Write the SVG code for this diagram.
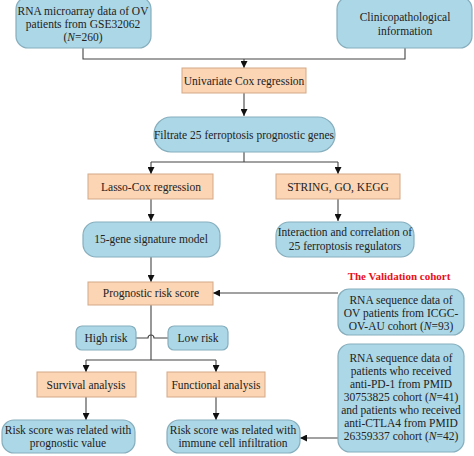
<svg xmlns="http://www.w3.org/2000/svg" width="474" height="456" viewBox="0 0 474 456" font-family="'Liberation Serif', 'DejaVu Serif', serif">
<style>
.b{fill:#acd7e6;stroke:#86aebd;stroke-width:1.2}
.o{fill:#fcd5b4;stroke:#d4a988;stroke-width:1}
text{font-family:'Liberation Serif','DejaVu Serif',serif;font-size:11.5px;fill:#222;text-anchor:middle}
.v{fill:#e8101a;font-weight:bold;font-size:11px}
.c{fill:none;stroke:#444;stroke-width:1.1}
</style>
<defs>
<marker id="a" viewBox="0 0 10 10" refX="10" refY="5" markerWidth="7" markerHeight="7" orient="auto" markerUnits="userSpaceOnUse">
<path d="M0,0L10,5L0,10z" fill="#111"/>
</marker>
</defs>
<rect width="474" height="456" fill="#fff"/>
<g id="connectors">
<path class="c" d="M83,48V59H405V48"/>
<path class="c" d="M244,59V68" marker-end="url(#a)"/>
<path class="c" d="M244,93V116" marker-end="url(#a)"/>
<path class="c" d="M244,152V162M151,162H338"/>
<path class="c" d="M151,162V174" marker-end="url(#a)"/>
<path class="c" d="M338,162V174" marker-end="url(#a)"/>
<path class="c" d="M151,199V221" marker-end="url(#a)"/>
<path class="c" d="M338,199V221" marker-end="url(#a)"/>
<path class="c" d="M151,257V282" marker-end="url(#a)"/>
<path class="c" d="M338,293H213" marker-end="url(#a)"/>
<path class="c" d="M151,305V360M86,360H216"/>
<path class="c" d="M86,360V372" marker-end="url(#a)"/>
<path class="c" d="M216,360V372" marker-end="url(#a)"/>
<path class="c" d="M136,338H148A3,3 0 0 1 154,338H168"/>
<path class="c" d="M86,397V420" marker-end="url(#a)"/>
<path class="c" d="M216,397V420" marker-end="url(#a)"/>
<path class="c" d="M338,438H300" marker-end="url(#a)"/>
</g>
<g id="n1"><rect class="b" x="16" y="-3" width="135" height="51" rx="12"/>
<text x="83" y="15">RNA microarray data of OV</text><text x="83" y="28">patients from GSE32062</text><text x="83" y="41">(<tspan font-style="italic">N</tspan>=260)</text></g>
<g id="n2"><rect class="b" x="337" y="-3" width="135" height="51" rx="12"/>
<text x="405" y="21">Clinicopathological</text><text x="405" y="35">information</text></g>
<g id="n3"><rect class="o" x="182" y="68" width="124" height="25"/>
<text x="244" y="85">Univariate Cox regression</text></g>
<g id="n4"><rect class="b" x="154" y="117" width="181" height="35" rx="17"/>
<text x="244" y="139">Filtrate 25 ferroptosis prognostic genes</text></g>
<g id="n5"><rect class="o" x="88" y="174" width="125" height="25"/>
<text x="151" y="191">Lasso-Cox regression</text></g>
<g id="n6"><rect class="o" x="276" y="174" width="124" height="25"/>
<text x="338" y="191">STRING, GO, KEGG</text></g>
<g id="n7"><rect class="b" x="83" y="222" width="137" height="35" rx="13"/>
<text x="151" y="243">15-gene signature model</text></g>
<g id="n8"><rect class="b" x="276" y="222" width="138" height="35" rx="13"/>
<text x="345" y="236">Interaction and correlation of</text><text x="345" y="250">25 ferroptosis regulators</text></g>
<g id="n9"><rect class="o" x="88" y="282" width="125" height="23"/>
<text x="151" y="297">Prognostic risk score</text></g>
<text class="v" x="399" y="280">The Validation cohort</text>
<g id="n10"><rect class="b" x="338" y="289" width="126" height="46" rx="11"/>
<text x="401" y="304">RNA sequence data of</text><text x="401" y="317">OV patients from ICGC-</text><text x="401" y="330">OV-AU cohort (<tspan font-style="italic">N</tspan>=93)</text></g>
<g id="n11"><rect class="b" x="76" y="326" width="60" height="24" rx="6"/>
<text x="106" y="342">High risk</text></g>
<g id="n12"><rect class="b" x="168" y="326" width="60" height="24" rx="6"/>
<text x="198" y="342">Low risk</text></g>
<g id="n13"><rect class="o" x="37" y="372" width="99" height="25"/>
<text x="86" y="389">Survival analysis</text></g>
<g id="n14"><rect class="o" x="167" y="372" width="98" height="25"/>
<text x="216" y="389">Functional analysis</text></g>
<g id="n15"><rect class="b" x="338" y="344" width="126" height="108" rx="12"/>
<text x="401" y="362">RNA sequence data of</text><text x="401" y="375">patients who received</text><text x="401" y="388">anti-PD-1 from PMID</text><text x="401" y="401">30753825 cohort (<tspan font-style="italic">N</tspan>=41)</text><text x="401" y="414">and patients who received</text><text x="401" y="427">anti-CTLA4 from PMID</text><text x="401" y="440">26359337 cohort (<tspan font-style="italic">N</tspan>=42)</text></g>
<g id="n16"><rect class="b" x="2" y="420" width="133" height="33" rx="12"/>
<text x="68" y="434">Risk score was related with</text><text x="68" y="447">prognostic value</text></g>
<g id="n17"><rect class="b" x="167" y="420" width="133" height="33" rx="12"/>
<text x="233" y="434">Risk score was related with</text><text x="233" y="447">immune cell infiltration</text></g>
</svg>
